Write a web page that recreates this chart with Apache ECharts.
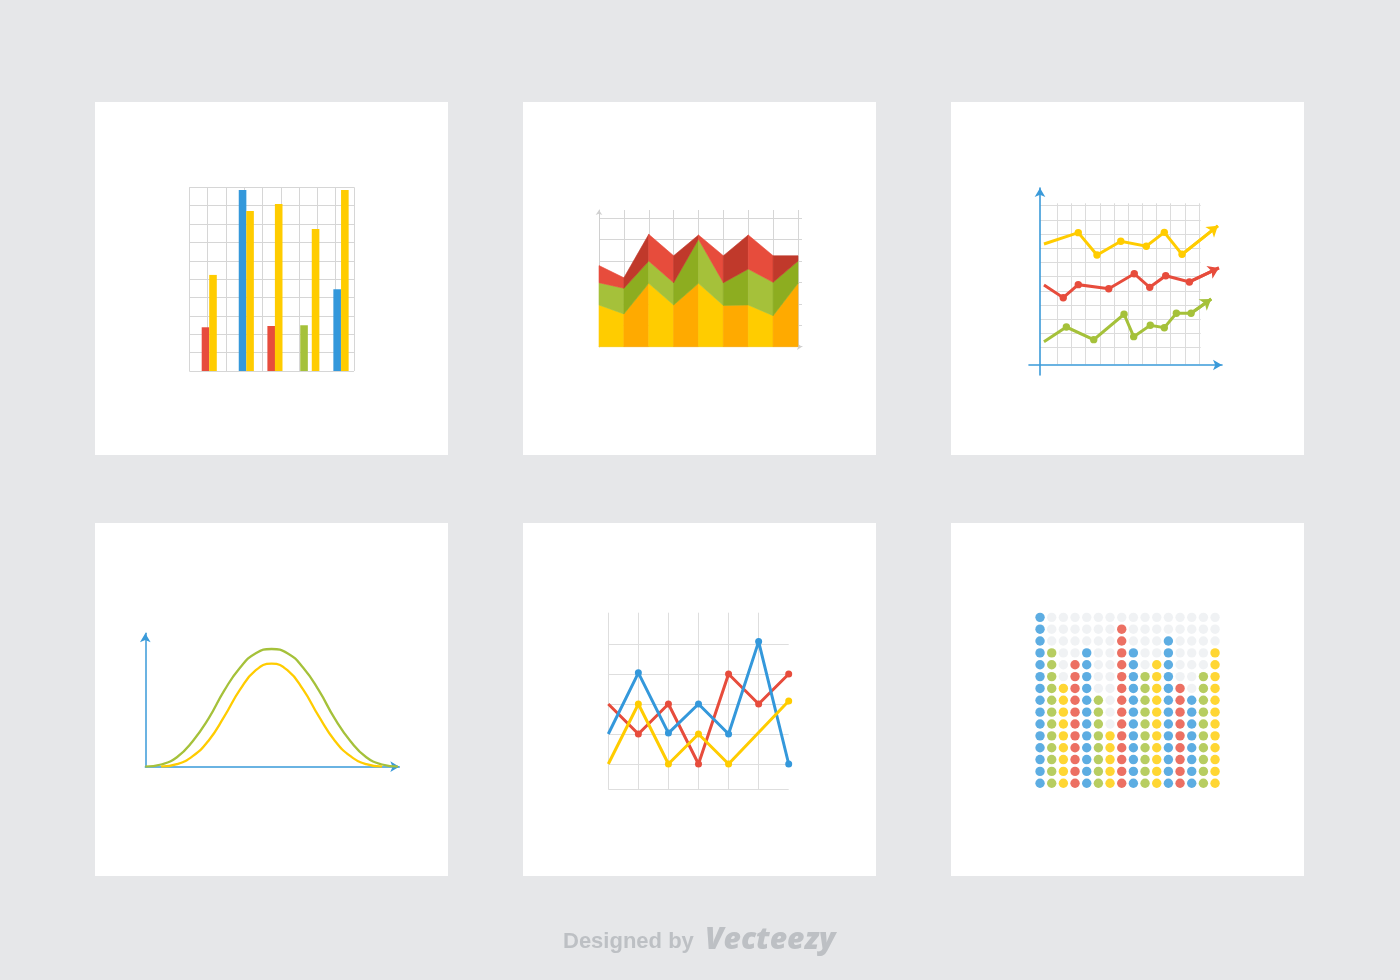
<!DOCTYPE html>
<html><head><meta charset="utf-8">
<script src="https://cdn.jsdelivr.net/npm/echarts@6/dist/echarts.min.js"></script>
<style>html,body{margin:0;padding:0;background:#e6e7e9}#c{width:1400px;height:980px}</style>
</head><body><div id="c"></div><script>
// ---------- Chart 1: grouped bars ----------
const barPos  = [0.885, 1.295, 2.91, 3.32, 4.475, 4.885, 6.27, 6.9, 8.08, 8.5];
const barVals = [2.38, 5.23, 9.85, 8.71, 2.45, 9.09, 2.49, 7.73, 4.45, 9.85];
const barKeys = ['red','yellow','blue','yellow','red','yellow','green','yellow','blue','yellow'];
// ---------- Chart 2: stacked area (cumulative tops) ----------
const areaYellowTop = [1.95, 1.53, 2.96, 1.95, 2.96, 1.93, 1.95, 1.45, 2.96];
const areaGreenTop  = [2.99, 2.73, 4.00, 2.99, 5.02, 2.99, 3.63, 3.01, 4.00];
const areaRedTop    = [3.79, 3.22, 5.25, 4.25, 5.22, 4.25, 5.22, 4.25, 4.25];
// ---------- Chart 3: trend lines with arrows ----------
const trendYellow = [[0.28,8.54],[2.70,9.34],[4.02,7.76],[5.70,8.73],[7.50,8.38],[8.77,9.36],[10.02,7.81],[12.55,9.82]];
const trendRed    = [[0.28,5.65],[1.64,4.75],[2.70,5.67],[4.85,5.38],[6.65,6.44],[7.74,5.48],[8.87,6.30],[10.54,5.86],[12.62,6.85]];
const trendGreen  = [[0.28,1.64],[1.86,2.68],[3.79,1.79],[5.93,3.58],[6.61,2.00],[7.78,2.80],[8.77,2.63],[9.62,3.65],[10.66,3.65],[12.08,4.66]];
// ---------- Chart 4: bell curves ----------
const bellX      = [0, 15.8, 31.6, 47.4, 63.2, 78.9, 94.7, 110.5, 126.3, 142.1, 157.9, 173.7, 189.5, 205.2, 221, 236.8, 252.6];
const bellGreen  = [0, 2.2, 9.5, 25.5, 48, 76, 99, 113.5, 117.7, 113.5, 99, 76, 48, 25.5, 9.5, 2.2, 0];
const bellYellow = [null, 0, 2.5, 10.5, 26, 50, 77, 96.5, 103, 96.5, 77, 50, 26, 10.5, 2.5, 0, null];
// ---------- Chart 5: multi-line ----------
const multiX      = [0, 1, 2, 3, 4, 5, 6];
const multiRed    = [3, 2, 3, 1, 4, 3, 4];
const multiBlue   = [2, 4.04, 2.03, 3, 2, 5.08, 1];
const multiYellow = [1, 3, 1, 2, 1, null, 3.1];
// ---------- Chart 6: dot matrix ----------
const dotHeights = [15, 12, 9, 11, 12, 8, 5, 14, 12, 10, 11, 13, 9, 8, 10, 12];
const dotKeys = ['blue','green','yellow','red','blue','green','yellow','red','blue','green','yellow','blue','red','blue','green','yellow'];
const dotRows = 15;

const C = {red:'#e74c3c', yellow:'#ffcc00', blue:'#3498db', green:'#a5c13a'};
const BLUE = '#3a9ad9';
const GRIDC = '#d8d8d8';

function ax(grid, o){
  return Object.assign({type:'value', gridIndex:grid, axisLine:{show:false}, axisTick:{show:false},
    axisLabel:{show:false}, splitLine:{show:false}}, o||{});
}
const split = c => ({show:true, lineStyle:{color:c||GRIDC, width:1}});
const arrowLine = (color, size, w) => ({show:true, onZero:true, symbol:['none','arrow'], symbolSize:size, lineStyle:{color:color, width:w}});

const grids = [
  {left:189.3, top:187.3, width:164.7, height:183.7},   // 0 chart1
  {left:599, top:210, width:199, height:137},           // 1 chart2 verticals
  {left:599, top:218.3, width:203, height:128.4},       // 2 chart2 horizontals
  {left:599, top:218.3, width:199, height:128.4},       // 3 chart2 series
  {left:1057.3, top:203.3, width:141.7, height:161},    // 4 chart3 verticals
  {left:1040, top:205.7, width:160.7, height:142},      // 5 chart3 horizontals
  {left:1029, top:188, width:193, height:187},          // 6 chart3 series/axes
  {left:145.3, top:633.3, width:254, height:133.4},     // 7 chart4
  {left:608.3, top:612.7, width:150.4, height:176.6},   // 8 chart5 verticals
  {left:608.3, top:644, width:180.4, height:145.3},     // 9 chart5 horizontals
  {left:608.3, top:614, width:180.4, height:180},       // 10 chart5 series
  {left:1034.2, top:611.4, width:186.7, height:177.8}   // 11 chart6
].map(g => Object.assign({containLabel:false}, g));

const xAxes = [
  ax(0,{min:0,max:9,interval:1,splitLine:split('#d6d6d6')}),
  ax(1,{min:0,max:8,interval:1,splitLine:split('#d6d6d6')}),
  ax(2,{min:0,max:1,axisLine:{show:true,onZero:false,symbol:['none','arrow'],symbolSize:[5,5],lineStyle:{color:'#d0d0d0',width:1}}}),
  ax(3,{min:0,max:8}),
  ax(4,{min:0,max:10,interval:1,splitLine:split('#dcdcdc')}),
  ax(5,{min:0,max:1}),
  ax(6,{min:-0.776,max:12.84,axisLine:arrowLine(BLUE,[8,9],1.6)}),
  ax(7,{min:0,max:254,axisLine:arrowLine(BLUE,[8,9],1.5)}),
  ax(8,{min:0,max:5,interval:1,splitLine:split('#dedede')}),
  ax(9,{min:0,max:1}),
  ax(10,{min:0,max:6}),
  {type:'category', gridIndex:11, data:dotHeights.map((_, i) => i), show:false}
];
const yAxes = [
  ax(0,{min:0,max:10,interval:1,splitLine:split('#d6d6d6')}),
  ax(1,{min:0,max:1,axisLine:{show:true,onZero:false,symbol:['none','arrow'],symbolSize:[5,5],lineStyle:{color:'#d0d0d0',width:1}}}),
  ax(2,{min:0,max:6,interval:1,splitLine:split('#d6d6d6')}),
  ax(3,{min:0,max:6}),
  ax(4,{min:0,max:1}),
  ax(5,{min:0,max:10,interval:1,splitLine:split('#dcdcdc')}),
  ax(6,{min:-0.706,max:12.49,axisLine:arrowLine(BLUE,[8,9],1.6)}),
  ax(7,{min:0,max:133.4,axisLine:arrowLine(BLUE,[8,9],1.5)}),
  ax(8,{min:0,max:1}),
  ax(9,{min:0,max:4.843,interval:1,inverse:true,splitLine:split('#dedede')}),
  ax(10,{min:0,max:6}),
  {type:'category', gridIndex:11, data:Array.from({length:dotRows},(_, i) => i), show:false}
];

const series = [];
// Chart 1
series.push({type:'bar', xAxisIndex:0, yAxisIndex:0, barWidth:7.6, silent:true,
  data: barPos.map((x,i) => ({value:[x, barVals[i]], itemStyle:{color:C[barKeys[i]]}}))});
// Chart 2
const zeros = areaYellowTop.map(() => 0);
series.push({type:'custom', xAxisIndex:3, yAxisIndex:3, silent:true,
  data: areaYellowTop.slice(0,-1).map((_, i) => [i, i+1]),
  renderItem(params, api){
    const i = params.dataIndex, light = i % 2 === 0;
    const P = (x,y) => api.coord([x,y]);
    const band = (lo, hi, color) => ({type:'polygon',
      shape:{points:[P(i,lo[i]),P(i+1,lo[i+1]),P(i+1,hi[i+1]),P(i,hi[i])]},
      style:{fill:color, stroke:color, lineWidth:0.6}});
    return {type:'group', children:[
      band(zeros, areaYellowTop, light ? '#ffcc00' : '#ffaa00'),
      band(areaYellowTop, areaGreenTop, light ? '#a5c13a' : '#8dad20'),
      band(areaGreenTop, areaRedTop, light ? '#e74c3c' : '#c0392b')
    ]};
  }});
// Chart 3
[[trendYellow,C.yellow],[trendRed,C.red],[trendGreen,C.green]].forEach(([pts,col]) => {
  series.push({type:'lines', coordinateSystem:'cartesian2d', xAxisIndex:6, yAxisIndex:6, polyline:true, silent:true,
    lineStyle:{color:col, width:3, opacity:1, curveness:0}, data:[{coords:pts}]});
  series.push({type:'lines', coordinateSystem:'cartesian2d', xAxisIndex:6, yAxisIndex:6, silent:true,
    symbol:['none','arrow'], symbolSize:10.5, lineStyle:{color:col, width:3, opacity:1, curveness:0},
    data:[{coords:pts.slice(-2)}]});
  series.push({type:'scatter', xAxisIndex:6, yAxisIndex:6, symbolSize:7.4, silent:true,
    itemStyle:{color:col, opacity:1}, data: pts.slice(1,-1)});
});
// Chart 4
[[bellGreen,C.green],[bellYellow,C.yellow]].forEach(([vals,col]) => {
  const pts = [];
  vals.forEach((v,i) => { if (v !== null) pts.push([bellX[i], v]); });
  series.push({type:'line', xAxisIndex:7, yAxisIndex:7, smooth:0.5, showSymbol:false, silent:true,
    lineStyle:{color:col, width:2.3}, data:pts});
});
// Chart 5
[[multiRed,C.red],[multiBlue,C.blue],[multiYellow,C.yellow]].forEach(([vals,col]) => {
  series.push({type:'line', xAxisIndex:10, yAxisIndex:10, connectNulls:true, silent:true,
    symbol:'circle', symbolSize:7, showSymbol:true, showAllSymbol:true,
    lineStyle:{color:col, width:3}, itemStyle:{color:col},
    data: vals.map((v,i) => i === 0 ? {value:[multiX[i], v], symbol:'none'} : [multiX[i], v])});
});
// Chart 6
const dots = [];
dotHeights.forEach((h, c) => {
  for (let r = 0; r < dotRows; r++) {
    dots.push({value:[c, r], itemStyle:{color: r < h ? C[dotKeys[c]] : '#eceff1'}});
  }
});
series.push({type:'scatter', xAxisIndex:11, yAxisIndex:11, symbolSize:9.4, silent:true, data:dots});

const panels = [[95,102],[523,102],[951,102],[95,523],[523,523],[951,523]];
const graphic = panels.map(([x,y]) => ({type:'rect', z:-100, silent:true,
  shape:{x:x, y:y, width:353, height:353}, style:{fill:'#ffffff'}}));
graphic.push({type:'text', z:10, left:563, top:931, style:{text:'Designed by', fill:'#bdc0c4',
  font:'bold 22px "Liberation Sans", Arial, sans-serif'}});
graphic.push({type:'text', z:10, left:705, top:925, style:{text:'Vecteezy', fill:'#bdc0c4',
  font:'italic 900 30px "Open Sans", "Liberation Sans", sans-serif'}});

const chart = echarts.init(document.getElementById('c'), null, {renderer:'canvas'});
chart.setOption({
  backgroundColor:'#e6e7e9', animation:false, tooltip:{show:false},
  grid:grids, xAxis:xAxes, yAxis:yAxes, series:series, graphic:graphic
});
</script></body></html>
